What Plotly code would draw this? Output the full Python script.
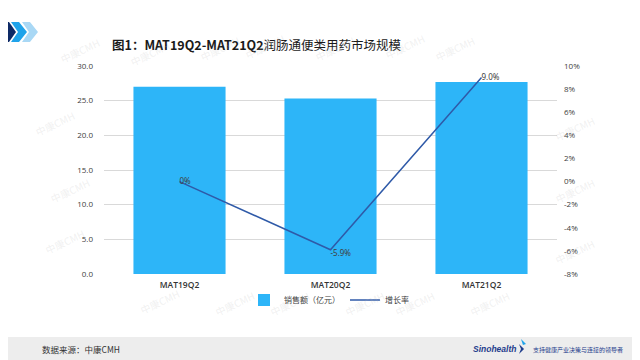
import plotly.graph_objects as go

categories = ["MAT19Q2", "MAT20Q2", "MAT21Q2"]
sales = [27.0, 25.3, 27.7]          # 销售额（亿元）
growth = [0.0, -5.9, 9.0]           # 增长率 (%)
growth_labels = ["0%", "-5.9%", "9.0%"]
left_ticks = [0, 5, 10, 15, 20, 25, 30]
right_ticks = [-8, -6, -4, -2, 0, 2, 4, 6, 8, 10]
right_tick_labels = ["-8%", "-6%", "-4%", "-2%", "0%", "2%", "4%", "6%", "8%", "10%"]

# page body has an 8px margin, so the figure is drawn 8px in from the window corner
OFF = 8
W, H = 640 - OFF, 360 - OFF
L, R, T, B = 96, 83, 58, 86
PW, PH = W - L - R, H - T - B

def px(x):  # reference window pixel -> paper x
    return (x - OFF - L) / PW
def py(y):  # reference window pixel -> paper y
    return (H - B - (y - OFF)) / PH

fig = go.Figure()
fig.add_trace(go.Bar(
    x=categories, y=sales, name="销售额（亿元）",
    marker=dict(color="#2DB5F8", line=dict(width=0)),
    width=0.61, yaxis="y",
))
fig.add_trace(go.Scatter(
    x=categories, y=growth, name="增长率", yaxis="y2",
    mode="lines+text", line=dict(color="#2F5AA8", width=1.5),
    text=growth_labels, textposition=["middle right", "bottom right", "middle right"],
    textfont=dict(size=8, color="#404040", family="Noto Sans"),
))

shapes = []
# footer band
shapes.append(dict(type="rect", xref="paper", yref="paper", x0=px(0), x1=px(640),
                   y0=py(362), y1=py(337),
                   fillcolor="#EDEDED", line=dict(width=0), layer="below"))
def path(pts):
    return "M " + " L ".join(f"{px(a):.4f},{py(b):.4f}" for a, b in pts) + " Z"
# chevrons
shapes.append(dict(type="path", xref="paper", yref="paper",
                   path=path([(8, 22), (9, 22), (16, 32), (9, 42), (8, 42)]),
                   fillcolor="#0E2A66", line=dict(width=0)))
shapes.append(dict(type="path", xref="paper", yref="paper",
                   path=path([(11, 22), (19, 22), (27, 32), (19, 42), (11, 42), (18, 32)]),
                   fillcolor="#1FA3EA", line=dict(width=0)))
shapes.append(dict(type="path", xref="paper", yref="paper",
                   path=path([(22, 22), (30, 22), (38, 32), (30, 42), (22, 42), (29, 32)]),
                   fillcolor="#A9D8F5", line=dict(width=0)))
# sinohealth mark
shapes.append(dict(type="path", xref="paper", yref="paper",
                   path=path([(519, 344), (524, 349), (519, 354), (521, 349)]),
                   fillcolor="#1E3C8C", line=dict(width=0)))
shapes.append(dict(type="path", xref="paper", yref="paper",
                   path=path([(521, 339), (526, 344), (523, 345)]),
                   fillcolor="#1FA3EA", line=dict(width=0)))

annotations = [
    dict(text="<b>图1：MAT19Q2-MAT21Q2</b>润肠通便类用药市场规模", xref="paper", yref="paper",
         x=px(257), y=py(45), xanchor="center", yanchor="middle", showarrow=False,
         font=dict(size=12.5, color="#1A1A1A", family="Noto Sans CJK SC")),
    dict(text="数据来源：中康CMH", xref="paper", yref="paper",
         x=px(40), y=py(349), xanchor="left", yanchor="middle", showarrow=False,
         font=dict(size=8.5, color="#333333", family="Noto Sans CJK SC")),
    dict(text="<b><i>Sinohealth</i></b>", xref="paper", yref="paper",
         x=px(518), y=py(349), xanchor="right", yanchor="middle", showarrow=False,
         font=dict(size=8.5, color="#1E3C8C", family="Liberation Sans")),
    dict(text="支持健康产业决策与连接的领导者", xref="paper", yref="paper",
         x=px(531), y=py(349), xanchor="left", yanchor="middle", showarrow=False,
         font=dict(size=6, color="#1E3C8C", family="Noto Sans CJK SC")),
]
# faint watermarks
for wx, wy in [(55, 32), (125, 35), (195, 30), (265, 28), (335, 30), (405, 28), (480, 30),
               (30, 105), (45, 190), (40, 260), (600, 110), (600, 190), (600, 270),
               (135, 320), (210, 322), (290, 322), (365, 322), (440, 322), (515, 322)]:
    annotations.append(dict(text="中康CMH", xref="paper", yref="paper", x=px(wx), y=py(wy),
                            showarrow=False, textangle=-25,
                            font=dict(size=10, color="rgba(190,190,190,0.22)",
                                      family="Noto Sans CJK SC")))

fig.update_layout(
    width=W, height=H,
    margin=dict(l=L, r=R, t=T, b=B, pad=0),
    paper_bgcolor="white", plot_bgcolor="rgba(0,0,0,0)",
    showlegend=True,
    legend=dict(orientation="h", x=px(329), xanchor="center", y=py(300), yanchor="middle",
                font=dict(size=8, color="#404040", family="Noto Sans CJK SC"),
                itemwidth=30, bgcolor="rgba(0,0,0,0)"),
    xaxis=dict(showgrid=False, showline=False, ticks="",
               tickfont=dict(size=8.5, color="#333333", family="Open Sans", weight=600),
               ticklabelstandoff=4),
    yaxis=dict(range=[0, 30], tickvals=left_ticks, tickformat=".1f",
               showgrid=True, gridcolor="#D9D9D9", gridwidth=1, zeroline=False,
               showline=False, ticks="",
               tickfont=dict(size=8, color="#404040", family="Open Sans"),
               ticklabelstandoff=10),
    yaxis2=dict(range=[-8, 10], tickvals=right_ticks, ticktext=right_tick_labels,
                overlaying="y", side="right", showgrid=False, zeroline=False,
                showline=False, ticks="",
                tickfont=dict(size=8, color="#404040", family="Open Sans"),
                ticklabelstandoff=6),
    shapes=shapes, annotations=annotations,
)

fig.write_html("out.html")
